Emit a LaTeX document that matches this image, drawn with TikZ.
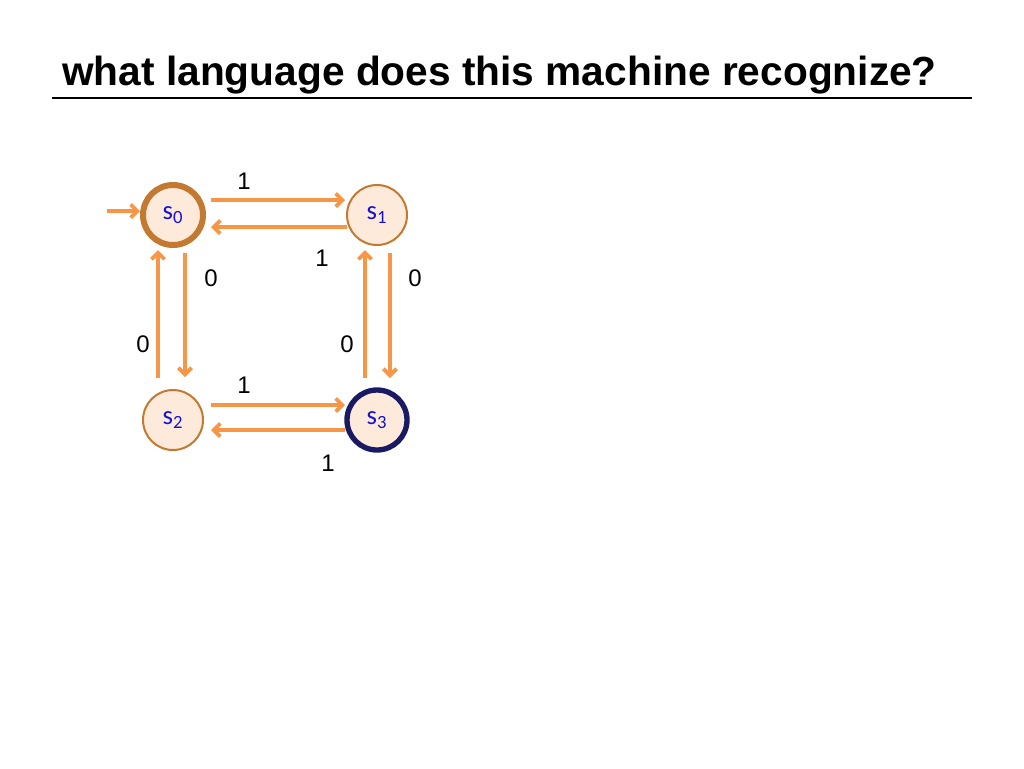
\documentclass[tikz,border=0pt]{standalone}
\usepackage{fontspec}
\setmainfont{Carlito}
\newfontfamily\arialf{Liberation Sans}
\usetikzlibrary{arrows.meta}
\definecolor{edge}{RGB}{247,150,70}
\definecolor{brd}{RGB}{196,121,48}
\definecolor{fillc}{RGB}{253,234,218}
\definecolor{navy}{RGB}{25,25,100}
\definecolor{stxt}{RGB}{20,20,210}
\tikzset{
 state/.style={circle,draw=brd,fill=fillc,line width=1.5pt,minimum size=45pt,inner sep=0pt,text=stxt,font=\fontsize{20}{22}\selectfont},
 tr/.style={draw=edge,line width=2.8pt,-{Straight Barb[length=5pt,width=10pt]}},
 lbl/.style={font=\arialf\fontsize{18}{20}\selectfont,text=black}
}
\begin{document}
\begin{tikzpicture}[x=0.75pt,y=-0.75pt]
\useasboundingbox (0,0) rectangle (1024,768);
\node[anchor=base west,inner sep=0pt,font=\arialf\bfseries\fontsize{30.5}{34}\selectfont] (title) at (62,85) {what language does this machine recognize?};
\coordinate (l1) at (52,98); \coordinate (l2) at (972,98);
\draw[line width=2.2pt] (l1) -- (l2);
\node[state,line width=4.5pt] (s0) at (173,215) {s\textsubscript{0}};
\node[state] (s1) at (377,215) {s\textsubscript{1}};
\node[state] (s2) at (173,420) {s\textsubscript{2}};
\node[state,draw=navy,line width=4pt] (s3) at (377,420) {s\textsubscript{3}};
\coordinate (st) at (107,211);
\draw[tr] (st) -- (s0.west |- st);
\draw[tr] (211,200) -- (345,200);
\draw[tr] (347,227) -- (211,227);
\draw[tr] (185,253) -- (185,377);
\draw[tr] (158,378) -- (158,250);
\draw[tr] (390,253) -- (390,378);
\draw[tr] (365,378) -- (365,250);
\draw[tr] (211,405) -- (345,405);
\draw[tr] (345,430) -- (211,430);
\node[lbl] (a1) at (244,181) {1};
\node[lbl] (a2) at (322,258) {1};
\node[lbl] (a3) at (211,278) {0};
\node[lbl] (a4) at (415,278) {0};
\node[lbl] (a5) at (143,344) {0};
\node[lbl] (a6) at (347,344) {0};
\node[lbl] (a7) at (244,385) {1};
\node[lbl] (a8) at (328,463) {1};
\end{tikzpicture}
\end{document}
